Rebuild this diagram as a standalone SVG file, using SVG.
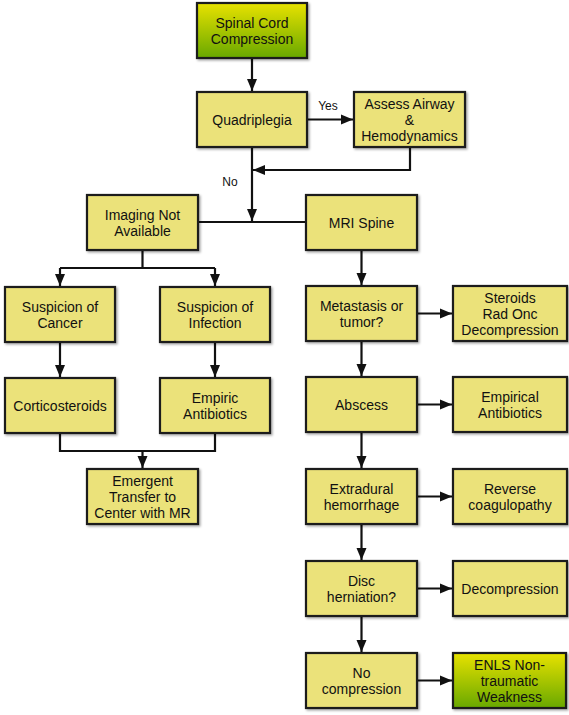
<svg xmlns="http://www.w3.org/2000/svg" width="569" height="715" viewBox="0 0 569 715">
<defs>
<linearGradient id="grn" x1="0" y1="0" x2="0" y2="1">
<stop offset="0" stop-color="#e8e200"/>
<stop offset="1" stop-color="#68a800"/>
</linearGradient>
<filter id="sh" x="-10%" y="-10%" width="130%" height="130%">
<feDropShadow dx="1.5" dy="1.5" stdDeviation="1.2" flood-color="#000" flood-opacity="0.35"/>
</filter>
<marker id="ah" markerWidth="12" markerHeight="12" viewBox="0 0 12 12" refX="12" refY="6" orient="auto" markerUnits="userSpaceOnUse">
<path d="M0,1 L12,6 L0,11 Z" fill="#111"/>
</marker>
</defs>
<style>
.b{fill:#ebe27a;stroke:#1a1a1a;stroke-width:2.2;filter:url(#sh)}
.g{fill:url(#grn);stroke:#1a1a1a;stroke-width:2.2;filter:url(#sh)}
text{font-family:"Liberation Sans",Arial,Helvetica,sans-serif;font-size:14px;fill:#111;text-anchor:middle}
.c path{fill:none;stroke:#111;stroke-width:2.2}
.lbl{font-size:12px}
</style>
<rect width="569" height="715" fill="#fff"/>

<g id="connectors" class="c">
<path d="M252,58 V91" marker-end="url(#ah)"/>
<path d="M307,119.5 H353" marker-end="url(#ah)"/>
<path d="M410,147 V170 H253" marker-end="url(#ah)"/>
<path d="M252,147 V221" marker-end="url(#ah)"/>
<path d="M198,222 H306"/>
<path d="M142.5,250 V268 M60,268 H215"/>
<path d="M60,268 V286" marker-end="url(#ah)"/>
<path d="M215,268 V286" marker-end="url(#ah)"/>
<path d="M60,342 V377" marker-end="url(#ah)"/>
<path d="M215,342 V377" marker-end="url(#ah)"/>
<path d="M60,433 V451 H215 V433"/>
<path d="M142.5,451 V468" marker-end="url(#ah)"/>
<path d="M361.5,250 V285" marker-end="url(#ah)"/>
<path d="M361.5,341 V376" marker-end="url(#ah)"/>
<path d="M361.5,432 V468" marker-end="url(#ah)"/>
<path d="M361.5,524 V560" marker-end="url(#ah)"/>
<path d="M361.5,616 V652" marker-end="url(#ah)"/>
<path d="M417,313.5 H452" marker-end="url(#ah)"/>
<path d="M417,404.5 H452" marker-end="url(#ah)"/>
<path d="M417,496.5 H452" marker-end="url(#ah)"/>
<path d="M417,588.5 H452" marker-end="url(#ah)"/>
<path d="M417,680.5 H452" marker-end="url(#ah)"/>
<text class="lbl" x="328" y="110">Yes</text>
<text class="lbl" x="230" y="186">No</text>
</g>

<g id="n-scc"><rect class="g" x="197" y="3" width="110" height="55"/><text x="252" y="27.5">Spinal Cord</text><text x="252" y="43.5">Compression</text></g>
<g id="n-quad"><rect class="b" x="197" y="92" width="110" height="55"/><text x="252" y="124.5">Quadriplegia</text></g>
<g id="n-assess"><rect class="b" x="354" y="92" width="111" height="55"/><text x="409.5" y="108.5">Assess Airway</text><text x="409.5" y="124.5">&amp;</text><text x="409.5" y="140.5">Hemodynamics</text></g>
<g id="n-imaging"><rect class="b" x="87" y="195" width="111" height="55"/><text x="142.5" y="219.5">Imaging Not</text><text x="142.5" y="235.5">Available</text></g>
<g id="n-mri"><rect class="b" x="306" y="195" width="111" height="55"/><text x="361.5" y="227.5">MRI Spine</text></g>
<g id="n-cancer"><rect class="b" x="5" y="287" width="110" height="55"/><text x="60" y="311.5">Suspicion of</text><text x="60" y="327.5">Cancer</text></g>
<g id="n-infection"><rect class="b" x="160" y="287" width="110" height="55"/><text x="215" y="311.5">Suspicion of</text><text x="215" y="327.5">Infection</text></g>
<g id="n-cortico"><rect class="b" x="5" y="378" width="110" height="55"/><text x="60" y="410.5">Corticosteroids</text></g>
<g id="n-empiric"><rect class="b" x="160" y="378" width="110" height="55"/><text x="215" y="402.5">Empiric</text><text x="215" y="418.5">Antibiotics</text></g>
<g id="n-emergent"><rect class="b" x="87" y="469" width="111" height="55"/><text x="142.5" y="485.5">Emergent</text><text x="142.5" y="501.5">Transfer to</text><text x="142.5" y="517.5">Center with MR</text></g>
<g id="n-meta"><rect class="b" x="306" y="286" width="111" height="55"/><text x="361.5" y="310.5">Metastasis or</text><text x="361.5" y="326.5">tumor?</text></g>
<g id="n-steroids"><rect class="b" x="453" y="286" width="114" height="55"/><text x="510" y="302.5">Steroids</text><text x="510" y="318.5">Rad Onc</text><text x="510" y="334.5">Decompression</text></g>
<g id="n-abscess"><rect class="b" x="306" y="377" width="111" height="55"/><text x="361.5" y="409.5">Abscess</text></g>
<g id="n-empirical"><rect class="b" x="453" y="377" width="114" height="55"/><text x="510" y="401.5">Empirical</text><text x="510" y="417.5">Antibiotics</text></g>
<g id="n-extradural"><rect class="b" x="306" y="469" width="111" height="55"/><text x="361.5" y="493.5">Extradural</text><text x="361.5" y="509.5">hemorrhage</text></g>
<g id="n-reverse"><rect class="b" x="453" y="469" width="114" height="55"/><text x="510" y="493.5">Reverse</text><text x="510" y="509.5">coagulopathy</text></g>
<g id="n-disc"><rect class="b" x="306" y="561" width="111" height="55"/><text x="361.5" y="585.5">Disc</text><text x="361.5" y="601.5">herniation?</text></g>
<g id="n-decomp"><rect class="b" x="453" y="561" width="114" height="55"/><text x="510" y="593.5">Decompression</text></g>
<g id="n-nocomp"><rect class="b" x="306" y="653" width="111" height="55"/><text x="361.5" y="677.5">No</text><text x="361.5" y="693.5">compression</text></g>
<g id="n-enls"><rect class="g" x="453" y="653" width="113" height="55"/><text x="509.5" y="669.5">ENLS Non-</text><text x="509.5" y="685.5">traumatic</text><text x="509.5" y="701.5">Weakness</text></g>
</svg>
